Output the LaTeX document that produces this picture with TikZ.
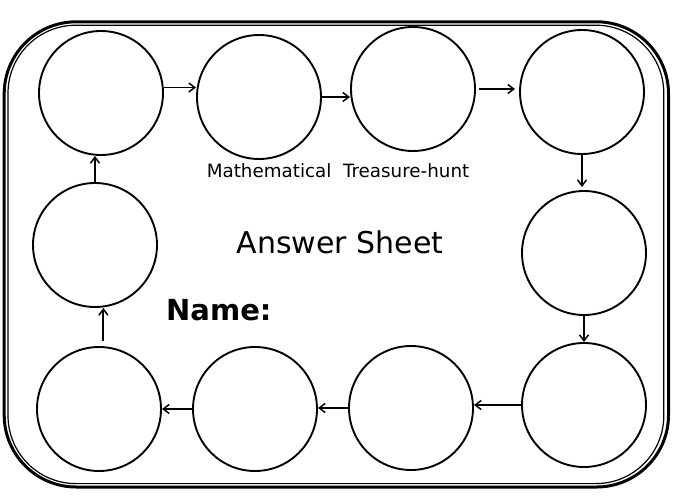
\documentclass[tikz,border=0pt]{standalone}
\usepackage{fontspec}
\setmainfont{DejaVu Sans}
\usetikzlibrary{positioning,arrows.meta}

\tikzset{
  ring/.style={draw, circle, line width=1.9pt, minimum size=124pt, inner sep=0pt},
  link/.style={-{Straight Barb[length=6pt,width=9pt,line width=1.5pt]}, line width=1.9pt},
  label/.style={inner sep=0pt}
}

\begin{document}
\begin{tikzpicture}[x=1pt,y=-1pt]
\useasboundingbox (0,0) rectangle (687,503);

% frame, thick outside and thin inside
\draw[line width=3pt, rounded corners=72pt] (4.2,21.8) rectangle (668.5,487);
\draw[line width=1.2pt, rounded corners=68pt] (8,25.2) rectangle (663.8,483.6);

% top row
\node[ring] (c1) at (101,93) {};
\node[ring] (c2) at (259,97) {};
\node[ring] (c3) at (413,89) {};
\node[ring] (c4) at (582,92) {};

% right side
\node[ring] (c5) at (584,253) {};
\node[ring] (c6) at (584,405) {};

% bottom row
\node[ring] (c7) at (411,408) {};
\node[ring] (c8) at (255,409) {};
\node[ring] (c9) at (99,409) {};

% left side
\node[ring] (c10) at (95,245) {};

% the way round
\draw[link] (c1.5) -- (c1.5 -| c2.west);
\draw[link] (c2.east) -- (c2.east -| c3.west);
\draw[link, shorten <=3pt, shorten >=4pt] (c3.east) -- (c3.east -| c4.west);
\draw[link, shorten >=3pt] (c4.south) -- (c4.south |- c5.north);
\draw[link] (c5.south) -- (c5.south |- c6.north);
\draw[link] (c6.west) -- (c6.west -| c7.east);
\draw[link] (c7.west) -- (c7.west -| c8.east);
\draw[link] (c8.west) -- (c8.west -| c9.east);
\draw[link, shorten <=5pt] (c9.86) -- (c9.86 |- c10.south);
\draw[link] (c10.north) -- (c10.north |- c1.south);

% texts
\node[label, anchor=base] (title) at (338,177)
  {\fontsize{18.3}{22}\selectfont Mathematical\ \ Treasure-hunt};
\node[label, anchor=base] (sheet) at (340,253)
  {\fontsize{30}{36}\selectfont Answer Sheet};
\node[label, anchor=base west] (name) at (166,320)
  {\fontsize{29}{34}\selectfont\bfseries Name:};

\end{tikzpicture}
\end{document}
